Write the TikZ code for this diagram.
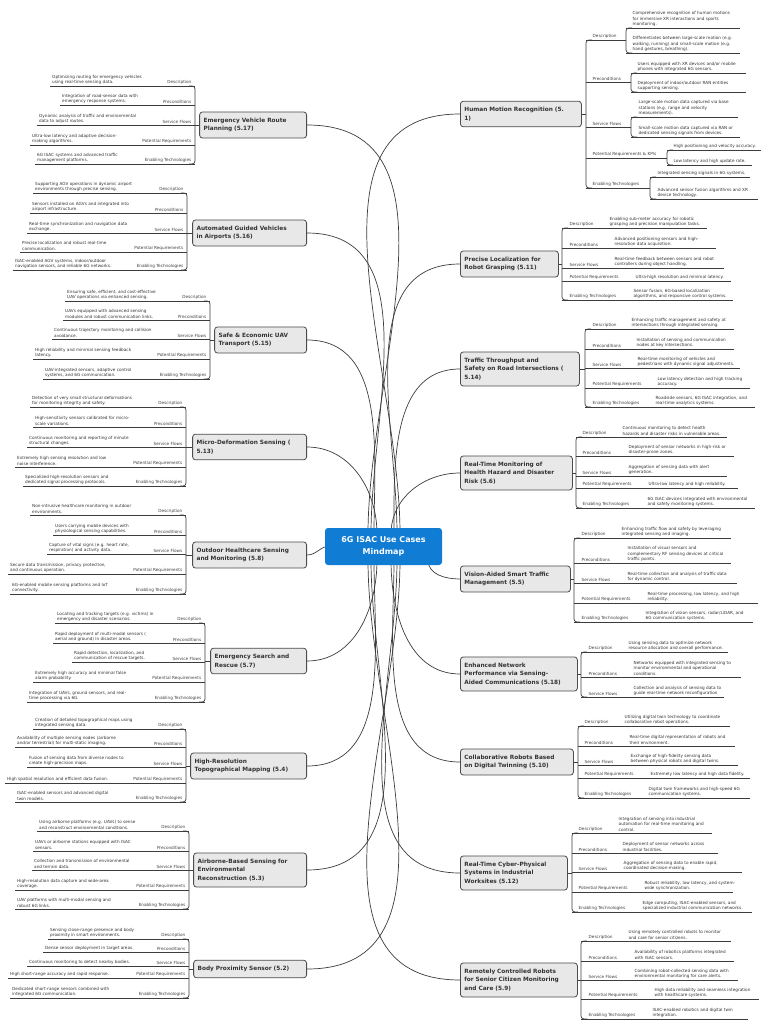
\documentclass[tikz,border=0pt]{standalone}
\usepackage{fontspec}
\setmainfont{DejaVu Sans}
\definecolor{rootblue}{RGB}{16,124,212}
\definecolor{lncol}{RGB}{60,60,60}
\newcount\nc
\tikzset{
 ln/.style={draw=lncol,line width=0.7pt},
 lf/.style={font=\fontsize{4.2}{5.6}\selectfont,align=left,inner sep=0.5pt,text=black!80},
 lb/.style={font=\fontsize{4.2}{5.6}\selectfont,inner sep=0.5pt,text=black!75},
 tp/.style={draw=black!70,fill=black!9,rounded corners=3pt,line width=0.8pt,font=\fontsize{5.8}{8.5}\selectfont\bfseries,align=left,inner xsep=4pt,inner ysep=6pt,text=black!80},
 rootbox/.style={text=white,font=\fontsize{8}{12.5}\selectfont\bfseries,align=center,inner sep=0pt}
}
\newcommand\LT[5]{\pgfmathsetmacro\tw{307-#2-8}%
 \node[tp,anchor=east,text width=\tw pt] (#1) at (307,#3) {#4};
 \draw[ln] (#1.east) to[out=0,in=#5] (rc#1);}
\newcommand\LB[4]{\draw[ln,rounded corners=3pt] ({\bx-6},#2) -- (\bx,#2) -- (\bx,#3) -- ({\bx-6},#3);
 \draw[ln] (#1.west) -- (\bx,#4);}
\newcommand\LL[4]{%
 \node[lf,anchor=south west] (n\the\nc a) at ({#1+1.5},{#2-0.8}) {#4};
 \node[lb,anchor=south east] (n\the\nc b) at ({\bx-3},{#2-0.8}) {#3};
 \draw[ln] (#1,#2) -- (\bx,#2);\global\advance\nc1 }
\newcommand\RT[5]{\pgfmathsetmacro\tw{#2-460-8}%
 \node[tp,anchor=west,text width=\tw pt] (#1) at (460,#3) {#4};
 \draw[ln] (#1.west) to[out=180,in=#5] (rc#1);}
\newcommand\RB[4]{\draw[ln,rounded corners=3pt] ({\bx+6},#2) -- (\bx,#2) -- (\bx,#3) -- ({\bx+6},#3);
 \draw[ln] (#1.east) -- (\bx,#4);}
\newcommand\RL[5]{%
 \node[lb,anchor=south west] (n\the\nc b) at (\lx,{#2-0.8}) {#4};
 \node[lf,anchor=south west] (n\the\nc a) at (#1,{#2-0.8}) {#5};
 \draw[ln] (\bx,#2) -- (#3,#2);\global\advance\nc1 }
\newcommand\HC[5]{%
 \node[lb,anchor=south west] (n\the\nc b) at (\lx,{#1-0.8}) {#2};
 \draw[ln] (\bx,#1) -- (#3,#1);
 \draw[ln,rounded corners=3pt] ({#3+6},#4) -- (#3,#4) -- (#3,#5) -- ({#3+6},#5);\global\advance\nc1 }
\newcommand\HL[4]{%
 \node[lf,anchor=south west] (n\the\nc a) at (#1,{#2-0.8}) {#4};
 \draw[ln] (\sbx,#2) -- (#3,#2);\global\advance\nc1 }
\begin{document}
\begin{tikzpicture}[x=1pt,y=-1pt]
\useasboundingbox[fill=white] (0,0) rectangle (768,1024);
% root attachment points
\coordinate (rcevrp) at (368,534);
\coordinate (rcagv) at (371,534);
\coordinate (rcuav) at (374,534);
\coordinate (rcmds) at (377,534);
\coordinate (rcohs) at (330,546);
\coordinate (rcesr) at (377,560);
\coordinate (rctopo) at (374,560);
\coordinate (rcabs) at (371,560);
\coordinate (rcbps) at (368,560);
\coordinate (rchmr) at (400,534);
\coordinate (rcplr) at (397,534);
\coordinate (rctts) at (394,534);
\coordinate (rcrtm) at (391,534);
\coordinate (rcvast) at (428,560);
\coordinate (rcenp) at (391,560);
\coordinate (rccrdt) at (394,560);
\coordinate (rcrtcp) at (397,560);
\coordinate (rcrcr) at (400,560);
% ---------- LEFT ----------
\def\bx{195}
\LT{evrp}{200}{125}{Emergency Vehicle Route\\Planning (5.17)}{90}
\LB{evrp}{86}{164}{125}
\LL{50}{86}{Description}{Optimizing routing for emergency vehicles\\using real-time sensing data.}
\LL{60}{105}{Preconditions}{Integration of road-sensor data with\\emergency response systems.}
\LL{37}{125}{Service Flows}{Dynamic analysis of traffic and environmental\\data to adjust routes.}
\LL{30}{145}{Potential Requirements}{Ultra-low latency and adaptive decision-\\making algorithms.}
\LL{35}{164}{Enabling Technologies}{6G ISAC systems and advanced traffic\\management platforms.}
\def\bx{187}
\LT{agv}{193}{233}{Automated Guided Vehicles\\in Airports (5.16)}{90}
\LB{agv}{193}{270}{233}
\LL{33}{193}{Description}{Supporting AGV operations in dynamic airport\\environments through precise sensing.}
\LL{30}{213}{Preconditions}{Sensors installed on AGVs and integrated into\\airport infrastructure.}
\LL{27}{233}{Service Flows}{Real-time synchronization and navigation data\\exchange.}
\LL{20}{252}{Potential Requirements}{Precise localization and robust real-time\\communication.}
\LL{13}{270}{Enabling Technologies}{ISAC-enabled AGV systems, indoor/outdoor\\navigation sensors, and reliable 6G networks.}
\def\bx{210}
\LT{uav}{215}{340}{Safe \& Economic UAV\\Transport (5.15)}{90}
\LB{uav}{301}{379}{340}
\LL{65}{301}{Description}{Ensuring safe, efficient, and cost-effective\\UAV operations via enhanced sensing.}
\LL{63}{320}{Preconditions}{UAVs equipped with advanced sensing\\modules and robust communication links.}
\LL{52}{339}{Service Flows}{Continuous trajectory monitoring and collision\\avoidance.}
\LL{33}{359}{Potential Requirements}{High reliability and minimal sensing feedback\\latency.}
\LL{43}{379}{Enabling Technologies}{UAV-integrated sensors, adaptive control\\systems, and 6G communication.}
\def\bx{186}
\LT{mds}{193}{447}{Micro-Deformation Sensing (\\5.13)}{90}
\LB{mds}{407}{486}{447}
\LL{30}{407}{Description}{Detection of very small structural deformations\\for monitoring integrity and safety.}
\LL{33}{427}{Preconditions}{High-sensitivity sensors calibrated for micro-\\scale variations.}
\LL{27}{447}{Service Flows}{Continuous monitoring and reporting of minute\\structural changes.}
\LL{15}{467}{Potential Requirements}{Extremely high sensing resolution and low\\noise interference.}
\LL{23}{486}{Enabling Technologies}{Specialized high-resolution sensors and\\dedicated signal processing protocols.}
\LT{ohs}{193}{555}{Outdoor Healthcare Sensing\\and Monitoring (5.8)}{180}
\LB{ohs}{515}{594}{555}
\LL{30}{515}{Description}{Non-intrusive healthcare monitoring in outdoor\\environments.}
\LL{53}{535}{Preconditions}{Users carrying mobile devices with\\physiological sensing capabilities.}
\LL{47}{554}{Service Flows}{Capture of vital signs (e.g. heart rate,\\respiration) and activity data.}
\LL{8}{574}{Potential Requirements}{Secure data transmission, privacy protection,\\and continuous operation.}
\LL{10}{594}{Enabling Technologies}{6G-enabled mobile sensing platforms and IoT\\connectivity.}
\def\bx{205}
\LT{esr}{211}{661}{Emergency Search and\\Rescue (5.7)}{-90}
\LB{esr}{623}{702}{661}
\LL{55}{623}{Description}{Locating and tracking targets (e.g. victims) in\\emergency and disaster scenarios.}
\LL{53}{643}{Preconditions}{Rapid deployment of multi-modal sensors (\\aerial and ground) in disaster areas.}
\LL{72}{662}{Service Flows}{Rapid detection, localization, and\\communication of rescue targets.}
\LL{33}{682}{Potential Requirements}{Extremely high accuracy and minimal false\\alarm probability.}
\LL{27}{702}{Enabling Technologies}{Integration of UAVs, ground sensors, and real-\\time processing via 6G.}
\def\bx{186}
\LT{topo}{191}{766}{High-Resolution\\Topographical Mapping (5.4)}{-90}
\LB{topo}{729}{802}{766}
\LL{33}{729}{Description}{Creation of detailed topographical maps using\\integrated sensing data.}
\LL{15}{747}{Preconditions}{Availability of multiple sensing nodes (airborne\\and/or terrestrial) for multi-static imaging.}
\LL{27}{767}{Service Flows}{Fusion of sensing data from diverse nodes to\\create high-precision maps.}
\LL{5}{783}{Potential Requirements}{High spatial resolution and efficient data fusion.}
\LL{15}{802}{Enabling Technologies}{ISAC-enabled sensors and advanced digital\\twin models.}
\def\bx{189}
\LT{abs}{194}{870}{Airborne-Based Sensing for\\Environmental\\Reconstruction (5.3)}{-90}
\LB{abs}{831}{909}{870}
\LL{37}{831}{Description}{Using airborne platforms (e.g. UAVs) to sense\\and reconstruct environmental conditions.}
\LL{33}{851}{Preconditions}{UAVs or airborne stations equipped with ISAC\\sensors.}
\LL{32}{870}{Service Flows}{Collection and transmission of environmental\\and terrain data.}
\LL{15}{890}{Potential Requirements}{High-resolution data capture and wide-area\\coverage.}
\LL{15}{909}{Enabling Technologies}{UAV platforms with multi-modal sensing and\\robust 6G links.}
\LT{bps}{194}{969}{Body Proximity Sensor (5.2)}{-90}
\LB{bps}{939}{998}{969}
\LL{48}{939}{Description}{Sensing close-range presence and body\\proximity in smart environments.}
\LL{43}{952}{Preconditions}{Dense sensor deployment in target areas.}
\LL{27}{966}{Service Flows}{Continuous monitoring to detect nearby bodies.}
\LL{8}{978}{Potential Requirements}{High short-range accuracy and rapid response.}
\LL{10}{998}{Enabling Technologies}{Dedicated short-range sensors combined with\\integrated 6G communication.}
% ---------- RIGHT ----------
\def\bx{586}\def\lx{592}
\RT{hmr}{581}{114}{Human Motion Recognition (5.\\1)}{90}
\RB{hmr}{40}{188}{114}
\HC{40}{Description}{626}{28}{53}\def\sbx{626}
\HL{632}{28}{740}{Comprehensive recognition of human motions\\for immersive XR interactions and sports\\monitoring.}
\HL{632}{53}{740}{Differentiates between large-scale motion (e.g.\\walking, running) and small-scale motion (e.g.\\hand gestures, breathing).}
\HC{82}{Preconditions}{631}{73}{92}\def\sbx{631}
\HL{637}{73}{746}{Users equipped with XR devices and/or mobile\\phones with integrated 6G sensors.}
\HL{637}{92}{746}{Deployment of indoor/outdoor RAN entities\\supporting sensing.}
\HC{127}{Service Flows}{631}{117}{137}
\HL{638}{117}{738}{Large-scale motion data captured via base\\stations (e.g. range and velocity\\measurements).}
\HL{638}{137}{740}{Small-scale motion data captured via RAN or\\dedicated sensing signals from devices.}
\HC{158}{Potential Requirements \& KPIs}{667}{150}{165}\def\sbx{667}
\HL{673}{150}{761}{High positioning and velocity accuracy.}
\HL{673}{165}{752}{Low latency and high update rate.}
\HC{188}{Enabling Technologies}{650}{177}{199}\def\sbx{650}
\HL{657}{177}{750}{Integrated sensing signals in 6G systems.}
\HL{657}{199}{758}{Advanced sensor fusion algorithms and XR\\device technology.}
\def\bx{562}\def\lx{569}
\RT{plr}{558}{264}{Precise Localization for\\Robot Grasping (5.11)}{90}
\RB{plr}{228}{300}{264}
\RL{609}{228}{707}{Description}{Enabling sub-meter accuracy for robotic\\grasping and precision manipulation tasks.}
\RL{614}{248}{716}{Preconditions}{Advanced positioning sensors and high-\\resolution data acquisition.}
\RL{614}{268}{724}{Service Flows}{Real-time feedback between sensors and robot\\controllers during object handling.}
\RL{635}{281}{731}{Potential Requirements}{Ultra-high resolution and minimal latency.}
\RL{633}{300}{733}{Enabling Technologies}{Sensor fusion, 6G-based localization\\algorithms, and responsive control systems.}
\def\bx{585}\def\lx{592}
\RT{tts}{579}{369}{Traffic Throughput and\\Safety on Road Intersections (\\5.14)}{90}
\RB{tts}{329}{407}{369}
\RL{631}{329}{734}{Description}{Enhancing traffic management and safety at\\intersections through integrated sensing.}
\RL{636}{349}{734}{Preconditions}{Installation of sensing and communication\\nodes at key intersections.}
\RL{637}{368}{740}{Service Flows}{Real-time monitoring of vehicles and\\pedestrians with dynamic signal adjustments.}
\RL{657}{388}{750}{Potential Requirements}{Low latency detection and high tracking\\accuracy.}
\RL{655}{407}{755}{Enabling Technologies}{Roadside sensors, 6G ISAC integration, and\\real-time analytics systems.}
\def\bx{576}\def\lx{582}
\RT{rtm}{572}{473}{Real-Time Monitoring of\\Health Hazard and Disaster\\Risk (5.6)}{90}
\RB{rtm}{437}{508}{473}
\RL{622}{437}{727}{Description}{Continuous monitoring to detect health\\hazards and disaster risks in vulnerable areas.}
\RL{628}{456}{734}{Preconditions}{Deployment of sensor networks in high-risk or\\disaster-prone zones.}
\RL{628}{476}{727}{Service Flows}{Aggregation of sensing data with alert\\generation.}
\RL{648}{488}{738}{Potential Requirements}{Ultra-low latency and high reliability.}
\RL{647}{508}{755}{Enabling Technologies}{6G ISAC devices integrated with environmental\\and safety monitoring systems.}
\def\bx{574}\def\lx{581}
\RT{vast}{570}{579}{Vision-Aided Smart Traffic\\Management (5.5)}{-90}
\RB{vast}{538}{622}{579}
\RL{621}{538}{731}{Description}{Enhancing traffic flow and safety by leveraging\\integrated sensing and imaging.}
\RL{627}{563}{731}{Preconditions}{Installation of visual sensors and\\complementary RF sensing devices at critical\\traffic points.}
\RL{627}{583}{737}{Service Flows}{Real-time collection and analysis of traffic data\\for dynamic control.}
\RL{647}{603}{758}{Potential Requirements}{Real-time processing, low latency, and high\\reliability.}
\RL{645}{622}{753}{Enabling Technologies}{Integration of vision sensors, radar/LiDAR, and\\6G communication systems.}
\def\bx{581}\def\lx{588}
\RT{enp}{577}{674}{Enhanced Network\\Performance via Sensing-\\Aided Communications (5.18)}{-90}
\RB{enp}{652}{697}{674}
\RL{628}{652}{728}{Description}{Using sensing data to optimize network\\resource allocation and overall performance.}
\RL{633}{677}{741}{Preconditions}{Networks equipped with integrated sensing to\\monitor environmental and operational\\conditions.}
\RL{633}{697}{724}{Service Flows}{Collection and analysis of sensing data to\\guide real-time network reconfiguration}
\def\bx{578}\def\lx{584}
\RT{crdt}{573}{762}{Collaborative Robots Based\\on Digital Twinning (5.10)}{-90}
\RB{crdt}{726}{798}{762}
\RL{624}{726}{730}{Description}{Utilizing digital twin technology to coordinate\\collaborative robot operations.}
\RL{629}{746}{735}{Preconditions}{Real-time digital representation of robots and\\their environment.}
\RL{630}{765}{738}{Service Flows}{Exchange of high-fidelity sensing data\\between physical robots and digital twins.}
\RL{650}{778}{750}{Potential Requirements}{Extremely low latency and high data fidelity.}
\RL{648}{798}{750}{Enabling Technologies}{Digital twin frameworks and high-speed 6G\\communication systems.}
\def\bx{572}\def\lx{578}
\RT{rtcp}{567}{873}{Real-Time Cyber-Physical\\Systems in Industrial\\Worksites (5.12)}{-90}
\RB{rtcp}{833}{912}{873}
\RL{618}{833}{712}{Description}{Integration of sensing into industrial\\automation for real-time monitoring and\\control.}
\RL{622}{853}{718}{Preconditions}{Deployment of sensor networks across\\industrial facilities.}
\RL{623}{872}{742}{Service Flows}{Aggregation of sensing data to enable rapid,\\coordinated decision-making.}
\RL{644}{892}{733}{Potential Requirements}{Robust reliability, low latency, and system-\\wide synchronization.}
\RL{642}{912}{752}{Enabling Technologies}{Edge computing, ISAC-enabled sensors, and\\specialized industrial communication networks.}
\def\bx{581}\def\lx{588}
\RT{rcr}{577}{980}{Remotely Controlled Robots\\for Senior Citizen Monitoring\\and Care (5.9)}{-90}
\RB{rcr}{941}{1019}{980}
\RL{628}{941}{731}{Description}{Using remotely controlled robots to monitor\\and care for senior citizens.}
\RL{634}{961}{734}{Preconditions}{Availability of robotics platforms integrated\\with ISAC sensors.}
\RL{634}{980}{738}{Service Flows}{Combining robot-collected sensing data with\\environmental monitoring for care alerts.}
\RL{654}{999}{759}{Potential Requirements}{High data reliability and seamless integration\\with healthcare systems.}
\RL{652}{1019}{748}{Enabling Technologies}{ISAC-enabled robotics and digital twin\\integration.}
\fill[rootblue,rounded corners=3pt] (325,528) rectangle (442,565);
\node[rootbox] (root) at (383.5,546.5) {6G ISAC Use Cases\\Mindmap};
\end{tikzpicture}
\end{document}
